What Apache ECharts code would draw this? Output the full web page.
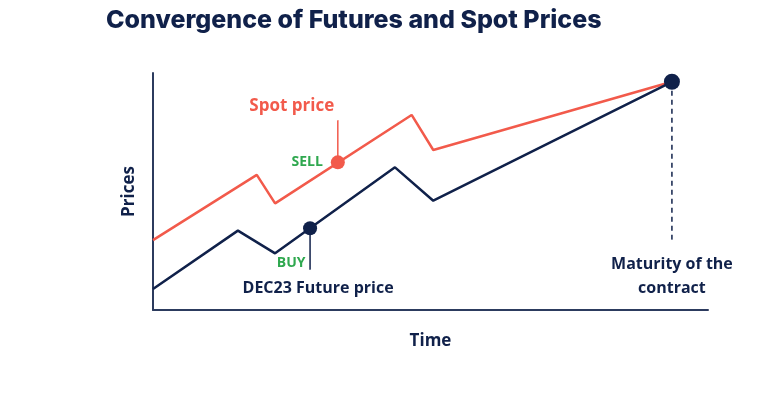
<!DOCTYPE html>
<html>
<head>
<meta charset="utf-8">
<script src="https://cdn.jsdelivr.net/npm/echarts@6/dist/echarts.min.js"></script>
<style>
  html, body {margin: 0; padding: 0; background: #fff;}
  #chart {width: 768px; height: 402px;}
</style>
</head>
<body>
<div id="chart"></div>
<script>
// time runs 0..100, prices 0..100 (no scale shown on the chart)
var spotTime = [0, 18.7, 22, 46.6, 50.5, 93.5];
var spotPrice = [29.5, 57, 45, 82.3, 67.5, 96.3];
var futureTime = [0, 15.3, 22, 43.6, 50.5, 93.5];
var futurePrice = [8.9, 33.5, 23.9, 60.2, 46.1, 96.3];

var sellPoint = [33.3, 62.3];
var buyPoint = [28.3, 34.5];
var maturityPoint = [93.5, 96.3];

var spotLabelTop = 80.2;   // end of the "Spot price" leader
var buyLabelBottom = 16.9; // end of the "BUY" leader
var maturityLineEnd = 29.5;

var navy = "#10214a", red = "#f25a4b", green = "#2fa84f";
var font = "Open Sans";

function pairs(xs, ys) {
    return xs.map(function(x, i) {return [x, ys[i]]});
}

var chart = echarts.init(document.getElementById("chart"));
chart.setOption({
    animation: false,
    title: {text: "Convergence of Futures and Spot Prices", left: 101, top: 3,
        textStyle: {fontFamily: "Inter", fontWeight: 800, fontSize: 25, color: navy}},
    grid: {left: 153, right: 60, top: 73, bottom: 92},
    xAxis: {type: "value", min: 0, max: 100, name: "Time", nameLocation: "middle", nameGap: 23,
        nameTextStyle: {fontFamily: font, fontWeight: "bold", fontSize: 17, color: navy},
        axisLine: {lineStyle: {color: "#2c3b5e", width: 2}}, axisTick: {show: false},
        axisLabel: {show: false}, splitLine: {show: false}},
    yAxis: {type: "value", min: 0, max: 100, name: "Prices", nameLocation: "middle", nameGap: 15, nameRotate: 90,
        nameTextStyle: {fontFamily: font, fontWeight: "bold", fontSize: 17, color: navy},
        axisLine: {show: true, lineStyle: {color: "#2c3b5e", width: 2}}, axisTick: {show: false},
        axisLabel: {show: false}, splitLine: {show: false}},
    series: [
        {name: "Spot", type: "line", data: pairs(spotTime, spotPrice), symbol: "none",
            lineStyle: {color: red, width: 2.5}, z: 3},
        {name: "Future", type: "line", data: pairs(futureTime, futurePrice), symbol: "none",
            lineStyle: {color: navy, width: 2.5}, z: 4},
        {type: "line", symbol: "none", lineStyle: {color: red, width: 1.5},
            data: [sellPoint, [sellPoint[0], spotLabelTop]]},
        {type: "line", symbol: "none", lineStyle: {color: navy, width: 1.5},
            data: [buyPoint, [buyPoint[0], buyLabelBottom]]},
        {type: "line", symbol: "none", lineStyle: {color: navy, width: 1.5, type: [5, 4]},
            data: [maturityPoint, [maturityPoint[0], maturityLineEnd]]},
        {type: "scatter", z: 6, itemStyle: {opacity: 1}, data: [
            {value: sellPoint, symbolSize: 14, itemStyle: {color: red, opacity: 1},
                label: {show: true, position: "left", distance: 8, formatter: "SELL",
                    fontFamily: font, fontWeight: "bold", fontSize: 14, color: green}},
            {value: buyPoint, symbolSize: 14, itemStyle: {color: navy, opacity: 1}},
            {value: maturityPoint, symbolSize: 16, itemStyle: {color: navy, opacity: 1}}
        ]},
        {type: "scatter", symbolSize: 1, itemStyle: {color: "#fff", opacity: 1}, z: 7, data: [
            {value: [sellPoint[0], spotLabelTop],
                label: {show: true, position: "top", distance: 5, offset: [-46, 0], formatter: "Spot price",
                    fontFamily: font, fontWeight: "bold", fontSize: 17, color: red}},
            {value: [buyPoint[0], buyLabelBottom],
                label: {show: true, position: "left", distance: 4, offset: [0, -7], formatter: "BUY",
                    fontFamily: font, fontWeight: "bold", fontSize: 14, color: green}},
            {value: [buyPoint[0], buyLabelBottom],
                label: {show: true, position: "bottom", distance: 10, offset: [8, 0], formatter: "DEC23 Future price",
                    fontFamily: font, fontWeight: "bold", fontSize: 16, color: navy}},
            {value: [maturityPoint[0], maturityLineEnd],
                label: {show: true, position: "bottom", distance: 12, formatter: "Maturity of the\ncontract",
                    align: "center", lineHeight: 24,
                    fontFamily: font, fontWeight: "bold", fontSize: 16, color: navy}}
        ]}
    ]
});
</script>
</body>
</html>
